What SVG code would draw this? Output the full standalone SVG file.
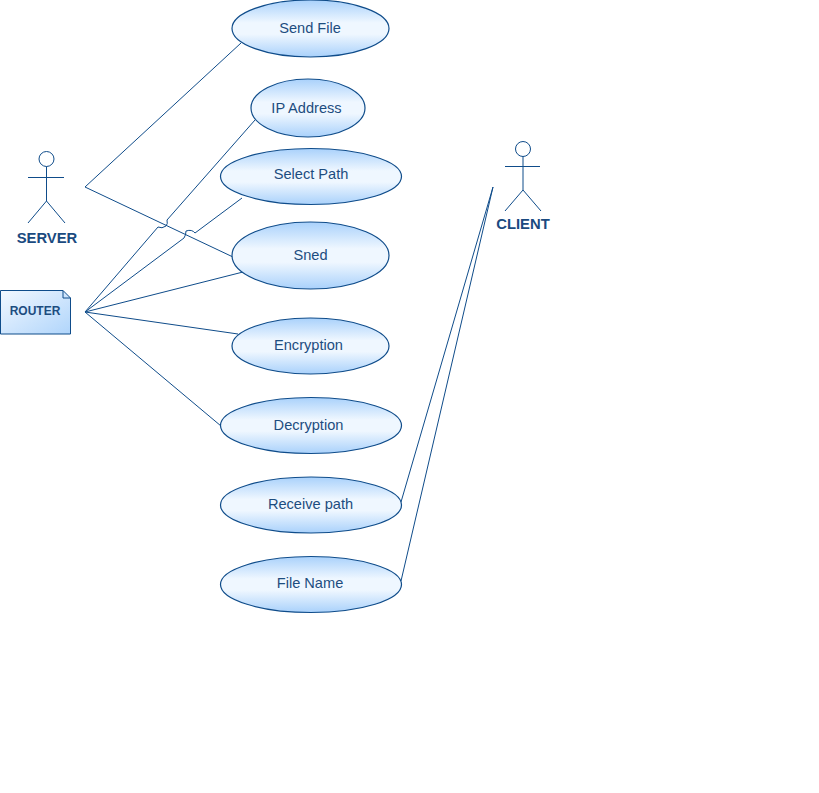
<svg xmlns="http://www.w3.org/2000/svg" width="819" height="793" viewBox="0 0 819 793">
<style>
.s{stroke:#0f4c8a;stroke-width:1;fill:none}
.e{stroke:#0f4c8a;stroke-width:1.200;fill:url(#g)}
.t{font-family:"Liberation Sans",Arial,sans-serif;font-size:14.600px;fill:#1d4d80;text-anchor:middle}
.b{font-family:"Liberation Sans",Arial,sans-serif;font-size:14.800px;font-weight:bold;fill:#1a4a80;text-anchor:middle}
</style>
<defs>
<linearGradient id="g" x1="0" y1="0" x2="0" y2="1">
<stop offset="0" stop-color="#a9d1fb"/><stop offset="0.4" stop-color="#eff7ff"/><stop offset="0.6" stop-color="#eff7ff"/><stop offset="1" stop-color="#a9d1fb"/>
</linearGradient>
<linearGradient id="n" x1="0" y1="0" x2="1" y2="1">
<stop offset="0" stop-color="#f2f8ff"/><stop offset="1" stop-color="#b0d5fb"/>
</linearGradient>
</defs>
<rect width="819" height="793" fill="#ffffff"/>
<g id="connectors" class="s">
<path d="M241 43L85 187L233 257"/>
<path d="M255 120L167 220Q168 224 166 226Q162 229 158 227L85 312"/>
<path d="M242 198L195 233Q192 229 186 231Q186 235 184 238L85 312"/>
<path d="M243 272L85 312"/>
<path d="M238 334L85 312"/>
<path d="M221 426L85 312"/>
<path d="M401 502L493 187"/>
<path d="M401 581L493 187"/>
</g>
<g id="send-file"><ellipse class="e" cx="310.500" cy="28.500" rx="78.500" ry="28.500"/><text class="t" x="310" y="33">Send File</text></g>
<g id="ip-address"><ellipse class="e" cx="308" cy="108" rx="57" ry="29"/><text class="t" x="306.500" y="113">IP Address</text></g>
<g id="select-path"><ellipse class="e" cx="311" cy="176.500" rx="90.500" ry="28"/><text class="t" x="311" y="179">Select Path</text></g>
<g id="sned"><ellipse class="e" cx="310.500" cy="255.500" rx="78.500" ry="33.500"/><text class="t" x="310.500" y="260">Sned</text></g>
<g id="encryption"><ellipse class="e" cx="310.500" cy="346" rx="78.500" ry="28"/><text class="t" x="308.500" y="350">Encryption</text></g>
<g id="decryption"><ellipse class="e" cx="311" cy="425.500" rx="90.500" ry="28"/><text class="t" x="308.500" y="430">Decryption</text></g>
<g id="receive-path"><ellipse class="e" cx="311" cy="505" rx="90.500" ry="28"/><text class="t" x="310.500" y="509">Receive path</text></g>
<g id="file-name"><ellipse class="e" cx="311" cy="584.500" rx="90.500" ry="28"/><text class="t" x="310" y="588">File Name</text></g>
<g id="server">
<circle class="s" cx="46.500" cy="159" r="7.500"/>
<path class="s" d="M46.500 166.500V201M28 177.500H64M46.500 201L28 223M46.500 201L65 223"/>
<text class="b" x="47" y="243">SERVER</text>
</g>
<g id="client">
<circle class="s" cx="523" cy="149" r="7.500"/>
<path class="s" d="M523 156.500V190M505 166.500H540M523 190L505 211M523 190L541 211"/>
<text class="b" x="523" y="229">CLIENT</text>
</g>
<g id="router">
<path d="M0.500 290.500H63L70.500 298V334H0.500Z" fill="url(#n)" stroke="#0f4c8a"/>
<path class="s" d="M63 290.500V298H70.500"/>
<text x="35" y="315" font-family="'Liberation Sans',Arial,sans-serif" font-size="12" font-weight="bold" fill="#1d4d80" text-anchor="middle">ROUTER</text>
</g>
</svg>
